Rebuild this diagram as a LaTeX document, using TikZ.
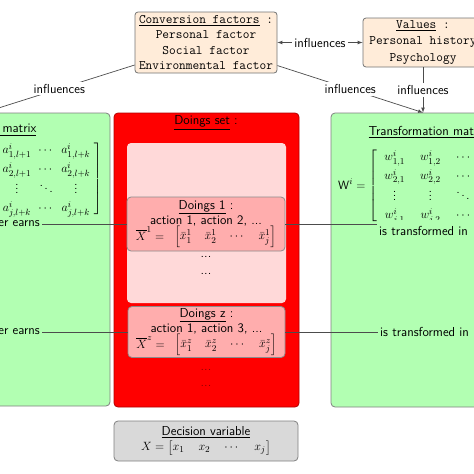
\documentclass[tikz,border=0pt]{standalone}
\usepackage{amsmath}
\begin{document}
\begin{tikzpicture}[x=1pt,y=-1pt,
  font=\sffamily\fontsize{13}{15.5}\selectfont,
  peach/.style={draw=black!55, fill=orange!15, rounded corners=3pt, line width=0.8pt, align=center, inner sep=2pt},
  greenbox/.style={draw=black!50, fill=green!30, rounded corners=4pt, line width=0.8pt},
  redbox/.style={draw=red!70!black, fill=red, rounded corners=4pt, line width=0.8pt},
  pinkbox/.style={fill=red!15, rounded corners=4pt},
  doingbox/.style={draw=black!45, fill=red!32, rounded corners=4pt, line width=0.8pt, align=center, inner sep=1pt},
  decbox/.style={draw=black!50, fill=gray!30, rounded corners=4pt, line width=0.8pt, align=center, inner sep=1pt},
  conn/.style={draw=black!70, line width=0.7pt},
  lbl/.style={fill=white, inner sep=2pt},
  dotlbl/.style={inner sep=0pt}
]
\useasboundingbox (0,0) rectangle (474,474);
\clip (0,0) rectangle (474,474);

% big boxes
\node[greenbox, minimum width=252pt, minimum height=293pt] (lbox) at (-16,259.5) {};
\node[greenbox, minimum width=184pt, minimum height=294pt] (rbox) at (423,260) {};
\node[redbox, minimum width=185pt, minimum height=294pt] (redb) at (206.5,260) {};
\node[pinkbox, minimum width=159pt, minimum height=160pt] (pink) at (206.5,223) {};

% top boxes
\node[peach, font=\ttfamily\fontsize{13}{15.3}\selectfont, minimum width=142pt, minimum height=61pt] (conv) at (206,42.5)
  {\underline{Conversion factors} :\\ Personal factor\\ Social factor\\ Environmental factor};
\node[peach, font=\ttfamily\fontsize{13}{16.5}\selectfont, minimum width=120pt, minimum height=49pt] (values) at (423,42.5)
  {\underline{Values} :\\ Personal history\\ Psychology};

% titles
\node (dtitle) at (206,123) {\underline{Doings set} :};
\node[anchor=east] (ltitle) at (40,130) {\underline{\hspace{1.2em}matrix}};
\node[anchor=west] (rtitle) at (365,132) {\underline{Transformation matrix}};

% doings
\node[doingbox, minimum width=158pt, minimum height=54pt] (d1) at (206,224)
  {\underline{Doings 1} :\\ action 1, action 2, ...\\
   {\arraycolsep=6.5pt $\overline{X}^1 = \;\;\begin{bmatrix}\bar{x}^1_1 & \bar{x}^1_2 & \cdots & \bar{x}^1_j\end{bmatrix}$}};
\node[doingbox, minimum width=157pt, minimum height=51pt] (dz) at (206.5,332)
  {\underline{Doings z} :\\ action 1, action 3, ...\\
   {\arraycolsep=6.5pt $\overline{X}^z = \;\;\begin{bmatrix}\bar{x}^z_1 & \bar{x}^z_2 & \cdots & \bar{x}^z_j\end{bmatrix}$}};
\node[dotlbl] (e1) at (206,257) {...};
\node[dotlbl] (e2) at (206,274) {...};
\node[dotlbl, text=red!55!black] (e3) at (206,370) {...};
\node[dotlbl, text=red!55!black] (e4) at (206,386) {...};

% decision
\node[decbox, minimum width=184pt, minimum height=40pt] (dec) at (206,441)
  {\underline{Decision variable}\\ {\arraycolsep=7pt $X=\begin{bmatrix}x_1 & x_2 & \cdots & x_j\end{bmatrix}$}};

% matrices
\node[anchor=east, inner sep=0pt] (amat) at (102,179)
  {$\renewcommand{\arraystretch}{1.2}\arraycolsep=3.5pt\left.\begin{array}{ccc}
   a^i_{1,l+1} & \cdots & a^i_{1,l+k}\\
   a^i_{2,l+1} & \cdots & a^i_{2,l+k}\\
   \vdots & \ddots & \vdots\\
   a^i_{j,l+k} & \cdots & a^i_{j,l+k}\end{array}\right]$};
\node[anchor=west, inner sep=0pt] (wmat) at (338,186)
  {$\renewcommand{\arraystretch}{1.2}\arraycolsep=7.5pt\mathsf{W}^i = \left[\begin{array}{ccc}
   w^i_{1,1} & w^i_{1,2} & \cdots\\
   w^i_{2,1} & w^i_{2,2} & \cdots\\
   \vdots & \vdots & \ddots\\
   w^i_{j,1} & w^i_{j,2} & \cdots\end{array}\right.$};

% earn / transform labels
\node[anchor=east, inner sep=2pt] (earn1) at (42,224) {er earns};
\node[anchor=east, inner sep=2pt] (earn2) at (42,332) {er earns};
\node[anchor=west, fill=green!30, inner sep=2pt, minimum height=22pt] (tr1) at (377,231) {is transformed in};
\node[anchor=west, inner sep=2pt] (tr2) at (378,332) {is transformed in};

% connectors
\draw[conn] (earn1) -- (d1.west);
\draw[conn] (d1.east) -- (d1.east -| tr1.west);
\draw[conn] (earn2) -- (dz.west);
\draw[conn] (dz) -- (tr2);

\draw[conn, latex-latex] (conv) -- node[lbl]{influences} (values);
\draw[conn, -latex] (conv) -- node[lbl]{influences} (lbox.north);
\draw[conn, -latex] (conv) -- node[lbl]{influences} (rbox.north);
\draw[conn, -latex] (values) -- node[lbl]{influences} (rbox.north);
\end{tikzpicture}
\end{document}
